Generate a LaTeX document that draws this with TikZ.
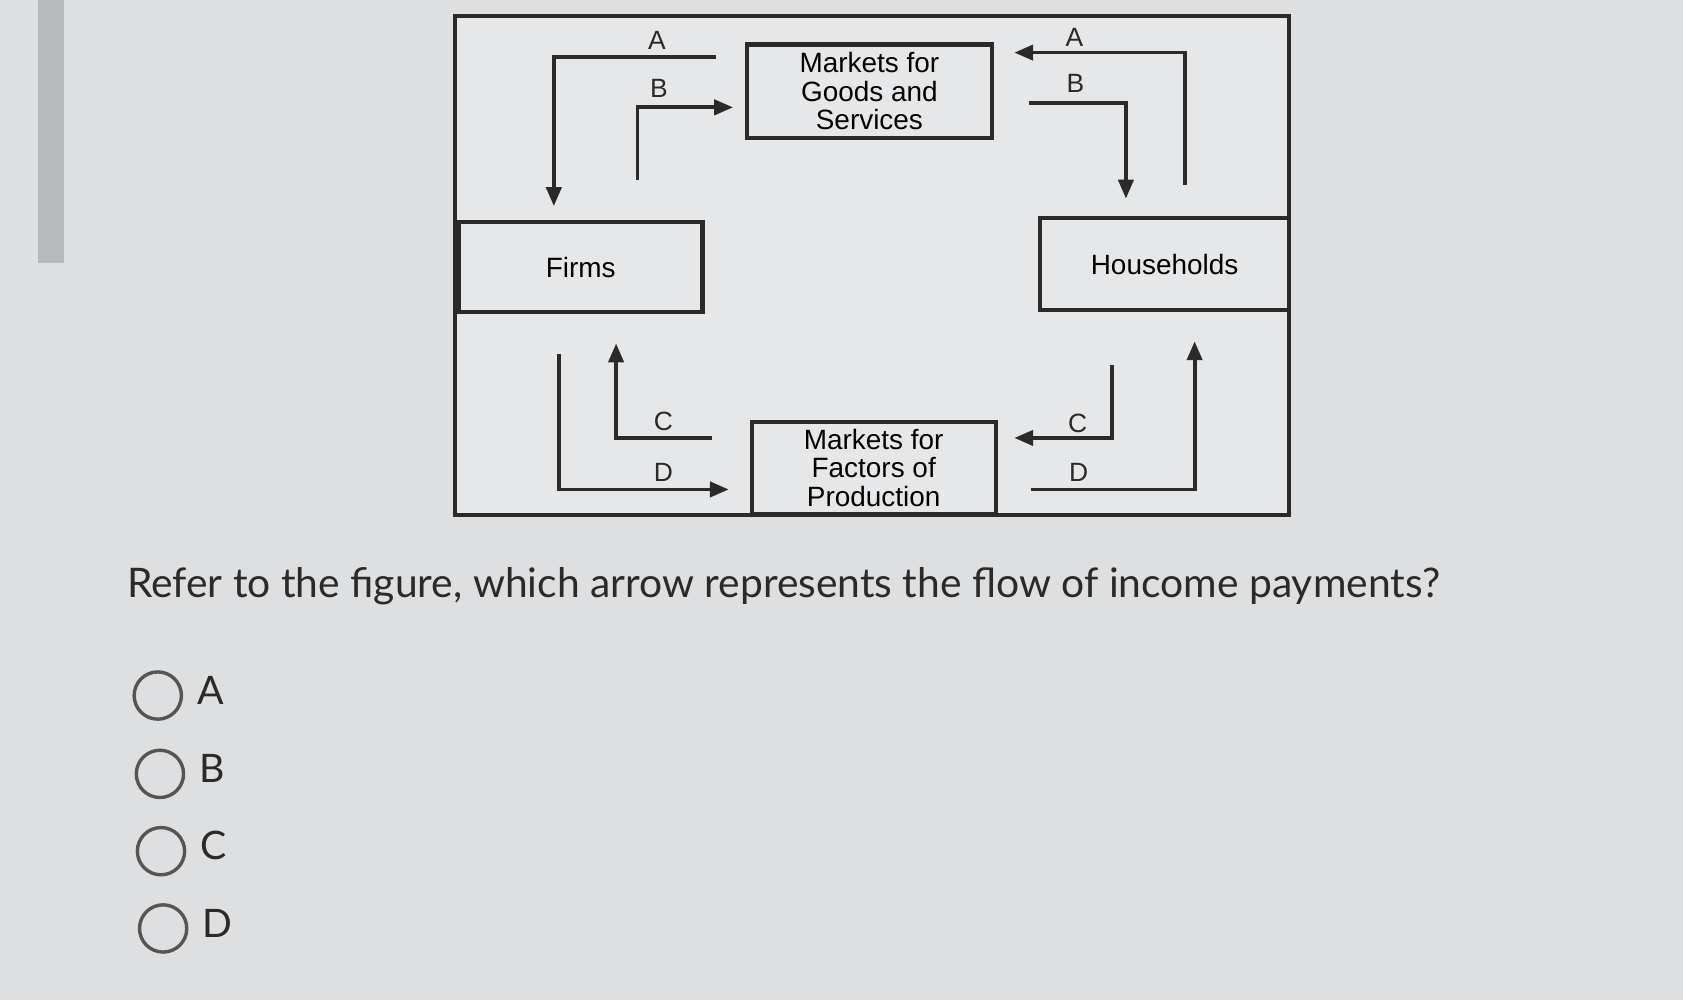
\documentclass[tikz,border=0pt]{standalone}
\usepackage{fontspec}
\setmainfont{Liberation Sans}
\newfontfamily\qfont{Lato}
\usetikzlibrary{arrows.meta}
\definecolor{bg}{HTML}{DEDFE0}
\definecolor{panel}{HTML}{E6E7E8}
\definecolor{strip}{HTML}{B8B9BA}
\definecolor{ink}{HTML}{2A2A2A}
\tikzset{
  box/.style={draw=ink,line width=1.1pt,fill=panel,align=center,inner sep=0pt,font=\fontsize{7.4}{7.6}\selectfont},
  flow/.style={draw=ink,line width=1pt,-{Triangle[length=5pt,width=4pt]}},
  lab/.style={font=\fontsize{7}{8}\selectfont,text=ink},
  opt/.style={draw=ink!80,line width=0.9pt,circle,minimum size=0.44cm,inner sep=0pt},
  optlab/.style={font=\qfont\fontsize{10.4}{12}\selectfont,text=ink,anchor=west}
}
\begin{document}
\begin{tikzpicture}[x=0.01cm,y=-0.01cm]
\useasboundingbox (0,0) rectangle (1568,932);
\fill[bg] (0,0) rectangle (1568,932);
\fill[strip] (35,0) rectangle (60,245);
\draw[ink,line width=1.2pt,fill=panel] (424,15) rectangle (1201,480);
\path (541,249) node[box,minimum width=2.27cm,minimum height=0.84cm] (firms) {Firms};
\path (1085,246) node[box,minimum width=2.32cm,minimum height=0.85cm] (hh) {Households};
\path (810,85) node[box,minimum width=2.28cm,minimum height=0.87cm] (mg) {Markets for\\Goods and\\Services};
\path (814,436) node[box,minimum width=2.27cm,minimum height=0.85cm] (mf) {Markets for\\Factors of\\Production};
% top-left
\coordinate (tlA1) at (667,53); \coordinate (tlA2) at (516,53); \coordinate (tlA3) at (516,192);
\coordinate (tlB1) at (594,168); \coordinate (tlB2) at (594,100); \coordinate (tlB3) at (683,100);
\draw[flow] (tlA1) -- (tlA2) -- (tlA3);
\draw[flow] (tlB1) -- (tlB2) -- (tlB3);
\node[lab] (la1) at (612,38) {A}; \node[lab] (lb1) at (614,82) {B};
% top-right
\coordinate (trA1) at (1104,172); \coordinate (trA2) at (1104,49); \coordinate (trA3) at (945,49);
\coordinate (trB1) at (959,96); \coordinate (trB2) at (1049,96); \coordinate (trB3) at (1049,185);
\draw[flow] (trA1) -- (trA2) -- (trA3);
\draw[flow] (trB1) -- (trB2) -- (trB3);
\node[lab] (la2) at (1001,35) {A}; \node[lab] (lb2) at (1002,78) {B};
% bottom-left
\coordinate (blC1) at (663,408); \coordinate (blC2) at (574,408); \coordinate (blC3) at (574,320);
\coordinate (blD1) at (521,330); \coordinate (blD2) at (521,456); \coordinate (blD3) at (679,456);
\draw[flow] (blC1) -- (blC2) -- (blC3);
\draw[flow] (blD1) -- (blD2) -- (blD3);
\node[lab] (lc1) at (618,393) {C}; \node[lab] (ld1) at (618,440) {D};
% bottom-right
\coordinate (brC1) at (1036,340); \coordinate (brC2) at (1036,408); \coordinate (brC3) at (945,408);
\coordinate (brD1) at (961,456); \coordinate (brD2) at (1113,456); \coordinate (brD3) at (1113,318);
\draw[flow] (brC1) -- (brC2) -- (brC3);
\draw[flow] (brD1) -- (brD2) -- (brD3);
\node[lab] (lc2) at (1004,394) {C}; \node[lab] (ld2) at (1005,440) {D};
% question
\node[anchor=west,font=\qfont\fontsize{10.8}{13}\selectfont,text=ink] (q) at (106,546) {Refer to the figure, which arrow represents the flow of income payments?};
\node[opt] (oA) at (147,648) {}; \node[optlab] (tA) at (172,643) {A};
\node[opt] (oB) at (149,721) {}; \node[optlab] (tB) at (173,716) {B};
\node[opt] (oC) at (150,793) {}; \node[optlab] (tC) at (174,788) {C};
\node[opt] (oD) at (152,865) {}; \node[optlab] (tD) at (176,860) {D};
\end{tikzpicture}
\end{document}
